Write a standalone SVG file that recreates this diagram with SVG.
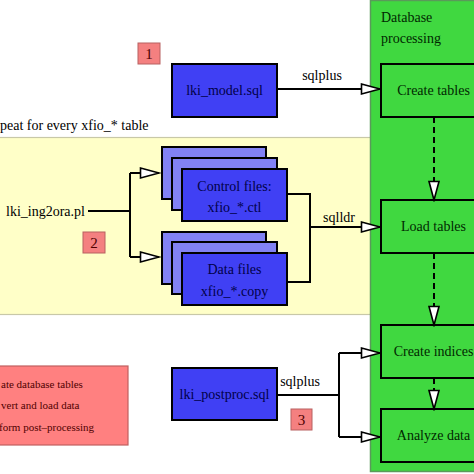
<svg xmlns="http://www.w3.org/2000/svg" width="474" height="474" viewBox="0 0 474 474" font-family="'Liberation Serif', 'DejaVu Serif', serif">
<defs>
<style>
text{font-family:'Liberation Serif','DejaVu Serif',serif;font-size:14px}
.blue{fill:#4040f4;stroke:#000;stroke-width:2}
.blue2{fill:#8282f4;stroke:#000;stroke-width:2}
.gbox{fill:#40d840;stroke:#000;stroke-width:2}
.num{fill:#f48080;stroke:#b86060;stroke-width:1}
.bt{fill:#000048;text-anchor:middle}
.gt{fill:#002800}
.gtc{fill:#002800;text-anchor:middle}
.rt{fill:#500000;font-size:11px}
.nt{fill:#500000;font-size:15px;text-anchor:middle}
.ln{fill:none;stroke:#000;stroke-width:2}
.dash{fill:none;stroke:#000;stroke-width:2;stroke-dasharray:6,4}
</style>
<marker id="ah" markerUnits="userSpaceOnUse" markerWidth="22" markerHeight="14" refX="20" refY="7" orient="auto">
<path d="M1.5,2 L20,7 L1.5,12 Z" fill="#fff" stroke="#000" stroke-width="1.6"/>
</marker>
</defs>
<rect width="474" height="474" fill="#fff"/>
<g id="repeat-band">
<rect x="-2" y="137.5" width="374" height="177" fill="#ffffc8" stroke="#c8c8a8" stroke-width="1.2"/>
<text x="0" y="130">peat for every xfio_* table</text>
</g>
<g id="db-processing">
<rect x="370.5" y="0.5" width="110" height="471" fill="#40d840" stroke="#5a9a5a" stroke-width="1.5"/>
<text class="gt" x="381" y="22">Database</text>
<text class="gt" x="381" y="43">processing</text>
</g>
<g id="create-tables">
<rect class="gbox" x="381" y="64" width="105" height="53"/>
<text class="gtc" x="433.5" y="95">Create tables</text>
</g>
<g id="load-tables">
<rect class="gbox" x="381" y="200" width="105" height="53"/>
<text class="gtc" x="433.5" y="231">Load tables</text>
</g>
<g id="create-indices">
<rect class="gbox" x="381" y="325" width="105" height="53"/>
<text class="gtc" x="433.5" y="356">Create indices</text>
</g>
<g id="analyze-data">
<rect class="gbox" x="381" y="409" width="105" height="53"/>
<text class="gtc" x="433.5" y="440">Analyze data</text>
</g>
<g id="num1">
<rect class="num" x="138" y="43" width="22" height="21"/>
<text class="nt" x="149" y="59">1</text>
</g>
<g id="lki-model">
<rect class="blue" x="172" y="64" width="105" height="53"/>
<text class="bt" x="224.5" y="95">lki_model.sql</text>
</g>
<g id="lki-ing2ora">
<text x="6" y="216" fill="#000">lki_ing2ora.pl</text>
</g>
<g id="num2">
<rect class="num" x="83" y="232" width="22" height="21"/>
<text class="nt" x="94" y="248">2</text>
</g>
<g id="control-files">
<rect class="blue2" x="162" y="147" width="104" height="52"/>
<rect class="blue2" x="172" y="158" width="105" height="52"/>
<rect class="blue" x="182" y="169" width="105" height="52"/>
<text class="bt" x="234.5" y="191">Control files:</text>
<text class="bt" x="234.5" y="212">xfio_*.ctl</text>
</g>
<g id="data-files">
<rect class="blue2" x="162" y="232" width="104" height="52"/>
<rect class="blue2" x="172" y="242" width="105" height="52"/>
<rect class="blue" x="182" y="253" width="105" height="52"/>
<text class="bt" x="234.5" y="274">Data files</text>
<text class="bt" x="234.5" y="296">xfio_*.copy</text>
</g>
<g id="lki-postproc">
<rect class="blue" x="172" y="368" width="105" height="52"/>
<text class="bt" x="224.5" y="399">lki_postproc.sql</text>
</g>
<g id="num3">
<rect class="num" x="291" y="409" width="21" height="21"/>
<text class="nt" x="301.5" y="425">3</text>
</g>
<g id="legend">
<rect x="-2" y="366" width="130" height="79" fill="#ff8080" stroke="#c06060" stroke-width="1.2"/>
<text class="rt" x="1" y="388">ate database tables</text>
<text class="rt" x="1" y="409">vert and load data</text>
<text class="rt" x="-1" y="431">form post–processing</text>
</g>
<g id="connectors">
<path class="ln" d="M277,89 H380" marker-end="url(#ah)"/>
<text x="322" y="80" text-anchor="middle">sqlplus</text>
<path class="ln" d="M88,211 H130"/>
<path class="ln" d="M130,173 V257"/>
<path class="ln" d="M130,173 H159" marker-end="url(#ah)"/>
<path class="ln" d="M130,257 H159" marker-end="url(#ah)"/>
<path class="ln" d="M287,194 H310 V282 H287"/>
<path class="ln" d="M310,227 H380" marker-end="url(#ah)"/>
<text x="339" y="222" text-anchor="middle">sqlldr</text>
<path class="dash" d="M434,117 V200" marker-end="url(#ah)"/>
<path class="dash" d="M434,253 V325" marker-end="url(#ah)"/>
<path class="dash" d="M434,378 V409" marker-end="url(#ah)"/>
<path class="ln" d="M277,395 H339"/>
<path class="ln" d="M339,353 V437"/>
<path class="ln" d="M339,353 H380" marker-end="url(#ah)"/>
<path class="ln" d="M339,437 H380" marker-end="url(#ah)"/>
<text x="300" y="386" text-anchor="middle">sqlplus</text>
</g>
</svg>
